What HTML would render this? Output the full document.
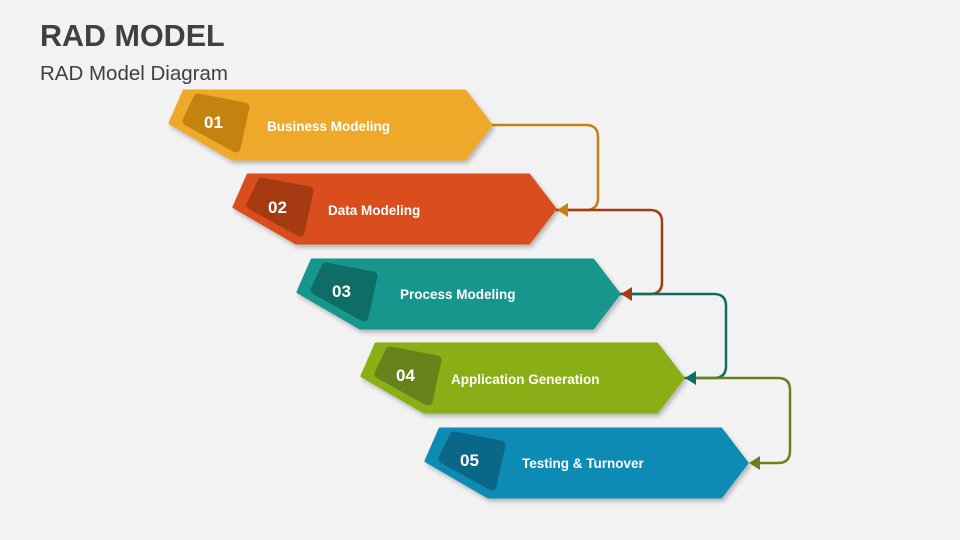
<!DOCTYPE html>
<html><head><meta charset="utf-8"><style>
html,body{margin:0;padding:0;background:#f2f2f2;}
svg{display:block;}
text{font-family:"Liberation Sans",sans-serif;}
</style></head><body>
<svg width="960" height="540" viewBox="0 0 960 540" xmlns="http://www.w3.org/2000/svg">
<defs>
<filter id="sh" x="-10%" y="-10%" width="130%" height="140%"><feDropShadow dx="2" dy="3" stdDeviation="2" flood-color="#000" flood-opacity="0.25"/></filter>
<g id="shape"><polygon points="184,91 465,91 491,125 465,159 232,159 170,123" stroke-width="3" stroke-linejoin="round"/></g>
<g id="badge"><polygon points="198,98 245,107 236,148 187,121" stroke-width="9" stroke-linejoin="round"/></g>
</defs>
<rect width="960" height="540" fill="#f2f2f2"/>
<text x="40" y="46" font-size="30.5" font-weight="bold" fill="#404040">RAD MODEL</text>
<text x="40" y="80" font-size="20.5" fill="#404040">RAD Model Diagram</text>

<g fill="none" stroke-width="2.5">
<path d="M492,125 H586 Q598,125 598,137 V198 Q598,210 586,210 H566" stroke="#C4830F"/>
<path d="M556,210 H650 Q662,210 662,222 V282 Q662,294 650,294 H630" stroke="#A63A13"/>
<path d="M620,294 H714 Q726,294 726,306 V366 Q726,378 714,378 H694" stroke="#0E6E66"/>
<path d="M684,378 H778 Q790,378 790,390 V451 Q790,463 778,463 H758" stroke="#67821A"/>
</g>
<polygon points="557,210 568,203 568,217" fill="#C4830F"/>
<polygon points="621,294 632,287 632,301" fill="#A63A13"/>
<polygon points="685,378 696,371 696,385" fill="#0E6E66"/>
<polygon points="749,463 760,456 760,470" fill="#67821A"/>

<g filter="url(#sh)">
<use href="#shape" fill="#EFA92A" stroke="#EFA92A"/>
<use href="#shape" fill="#DA4E1B" stroke="#DA4E1B" transform="translate(64,84)"/>
<use href="#shape" fill="#13968C" stroke="#13968C" transform="translate(128,169)"/>
<use href="#shape" fill="#8AAE16" stroke="#8AAE16" transform="translate(192,253)"/>
<use href="#shape" fill="#0F8BB5" stroke="#0F8BB5" transform="translate(256,338)"/>
</g>
<use href="#badge" fill="#C4830F" stroke="#C4830F"/>
<use href="#badge" fill="#A63A13" stroke="#A63A13" transform="translate(64,84)"/>
<use href="#badge" fill="#0E6E66" stroke="#0E6E66" transform="translate(128,169)"/>
<use href="#badge" fill="#67821A" stroke="#67821A" transform="translate(192,253)"/>
<use href="#badge" fill="#0B6787" stroke="#0B6787" transform="translate(256,338)"/>

<g fill="#fff" font-weight="bold">
<text x="204" y="128" font-size="17">01</text>
<text x="268" y="213" font-size="17">02</text>
<text x="332" y="297" font-size="17">03</text>
<text x="396" y="381" font-size="17">04</text>
<text x="460" y="466" font-size="17">05</text>
<text x="267" y="131" font-size="13.5">Business Modeling</text>
<text x="328" y="215" font-size="13.5">Data Modeling</text>
<text x="400" y="299" font-size="13.5">Process Modeling</text>
<text x="451" y="384" font-size="13.5">Application Generation</text>
<text x="522" y="468" font-size="13.5">Testing &amp; Turnover</text>
</g>
</svg>
</body></html>
